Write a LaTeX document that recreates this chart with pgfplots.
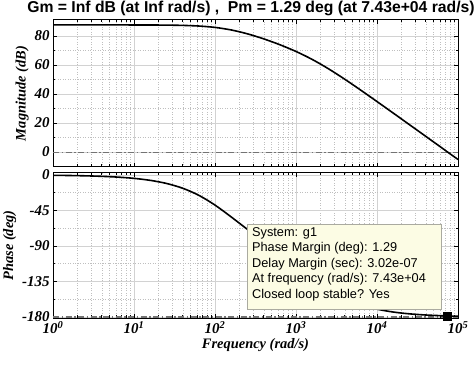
\documentclass[border=0pt]{standalone}
\usepackage{fontspec}
\setmainfont{Liberation Serif}
\newfontfamily\arial{Liberation Sans}
\usepackage{pgfplots}
\pgfplotsset{compat=1.18}
\definecolor{tipbg}{RGB}{252,252,228}
\definecolor{tipborder}{RGB}{170,170,160}
\begin{document}
\begin{tikzpicture}
\begin{axis}[
  xmode=log, xmin=1, xmax=1e5,
  scale only axis, width=405bp,
  at={(53bp,198bp)}, anchor=south west, height=147bp,
  xtick={1,10,100,1000,10000,100000},
  grid=both,
  major grid style={gray!35, line width=0.5bp},
  minor grid style={gray!50, line width=0.5bp, dotted},
  tick pos=both, tick align=inside,
  axis line style={black, line width=1bp},
  major tick length=4bp, minor tick length=2.5bp,
  every tick/.style={black, line width=0.6bp},
  tick label style={font=\fontsize{15}{17}\selectfont\bfseries\itshape},
  label style={font=\fontsize{14.5}{16}\selectfont\bfseries\itshape},
  ymin=-10.3, ymax=91,
  ytick={0,20,40,60,80}, minor y tick num=1,
  xticklabels={},
  ylabel={Magnitude (dB)},
  ylabel style={yshift=-1bp},
  /pgf/number format/assume math mode=true,
]
\addplot[black!55, line width=1.1bp, dash pattern=on 6bp off 2.5bp on 1.5bp off 2.5bp] coordinates {(1,0) (1e5,0)};
\addplot[black, line width=1.6bp, smooth] coordinates {
(1,87.6) (1.585,87.6) (2.512,87.6) (3.981,87.6) (6.31,87.59) (10,87.58) (15.85,87.55) (25.12,87.47) (39.81,87.28) (63.1,86.84) (100,85.89) (158.5,84.14) (251.2,81.47) (398.1,78.02) (631,73.97) (1000,69.31) (1585,63.82) (2512,57.41) (3981,50.25) (6310,42.63) (10000,34.80) (15850,26.87) (25120,18.89) (39810,10.90) (63100,2.91) (74300,0.0) (100000,-5.09)
};
\end{axis}
\begin{axis}[
  xmode=log, xmin=1, xmax=1e5,
  scale only axis, width=405bp,
  at={(53bp,47bp)}, anchor=south west, height=145bp,
  xtick={1,10,100,1000,10000,100000},
  grid=both,
  major grid style={gray!35, line width=0.5bp},
  minor grid style={gray!50, line width=0.5bp, dotted},
  tick pos=both, tick align=inside,
  axis line style={black, line width=1bp},
  major tick length=4bp, minor tick length=2.5bp,
  every tick/.style={black, line width=0.6bp},
  tick label style={font=\fontsize{15}{17}\selectfont\bfseries\itshape},
  label style={font=\fontsize{14.5}{16}\selectfont\bfseries\itshape},
  ymin=-181.3, ymax=2.5,
  ytick={0,-45,-90,-135,-180}, minor y tick num=1,
  xticklabels={10\textsuperscript{0},10\textsuperscript{1},10\textsuperscript{2},10\textsuperscript{3},10\textsuperscript{4},10\textsuperscript{5}},
  xlabel={Frequency (rad/s)},
  ylabel={Phase (deg)},
  xlabel style={yshift=2bp},
  ylabel style={yshift=-1bp},
  /pgf/number format/assume math mode=true,
]
\addplot[black!55, line width=1.1bp, dash pattern=on 6bp off 2.5bp on 1.5bp off 2.5bp] coordinates {(1,-180) (1e5,-180)};
\addplot[black, line width=1.6bp, smooth] coordinates {
(1,-0.43) (1.585,-0.68) (2.512,-1.08) (3.981,-1.72) (6.31,-2.72) (10,-4.30) (15.85,-6.81) (25.12,-10.73) (39.81,-16.78) (63.1,-25.78) (100,-38.17) (158.5,-53.20) (251.2,-68.92) (398.1,-83.97) (631,-98.58) (1000,-113.75) (1585,-129.50) (2512,-144.21) (3981,-156.01) (6310,-164.45) (10000,-170.08) (15850,-173.72) (25120,-176.03) (39810,-177.49) (63100,-178.42) (74300,-178.71) (100000,-179.0)
};
\draw[fill=tipbg, draw=tipborder, line width=0.6bp] (axis cs:248,-62.1) rectangle (axis cs:61660,-169.8);
\node[anchor=north west, align=left, inner xsep=5bp, inner ysep=3bp,
  font=\arial\fontsize{12.8}{15.7}\selectfont] at (axis cs:248,-62.1)
  {System: g1\\Phase Margin (deg): 1.29\\Delay Margin (sec): 3.02e-07\\At frequency (rad/s): 7.43e+04\\Closed loop stable? Yes};
\addplot[only marks, mark=square*, mark size=4bp, black] coordinates {(74300,-178.71)};
\end{axis}
\node[anchor=base, font=\arial\bfseries\fontsize{15.8}{17}\selectfont] at (251bp,352bp)
  {Gm = Inf dB (at Inf rad/s)\ ,\ \ Pm = 1.29 deg (at 7.43e+04 rad/s)};
\pgfresetboundingbox
\useasboundingbox (0,0) rectangle (474bp,365bp);
\end{tikzpicture}
\end{document}
